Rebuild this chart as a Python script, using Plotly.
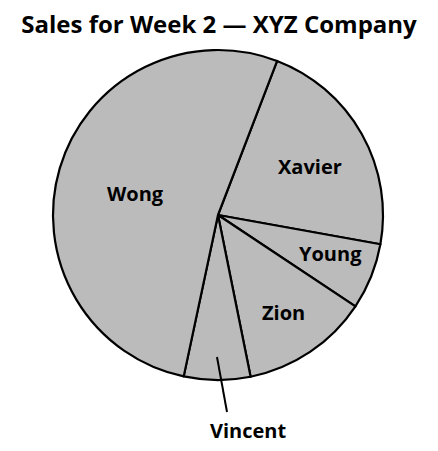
import plotly.graph_objects as go

# sales for week 2, slices listed clockwise starting at the Wong/Xavier border
names = ["Xavier", "Young", "Zion", "Vincent", "Wong"]
sales = [22, 6.5, 12.5, 6.5, 52.5]

W, H = 438, 451
FONT = "Open Sans"
OFF = 8  # page body margin


def px(x, y):
    # screen pixel position -> paper coordinates
    return (x - OFF) / W, 1 - (y - OFF) / H


dx0, dy0 = px(53, 380)
dx1, dy1 = px(383, 50)

fig = go.Figure()
fig.add_trace(go.Pie(
    labels=names,
    values=sales,
    sort=False,
    direction="clockwise",
    rotation=21,
    textinfo="none",
    hoverinfo="label+value",
    marker=dict(colors=["#bbbbbb"] * len(names), line=dict(color="black", width=2.2)),
    domain=dict(x=[dx0, dx1], y=[dy0, dy1]),
    showlegend=False,
))

# label positions (pixels), one per slice
label_pos = {
    "Wong": (135, 194),
    "Xavier": (310, 166),
    "Young": (330, 253),
    "Zion": (283, 312),
    "Vincent": (248, 430),
}
for name in names:
    x, y = px(*label_pos[name])
    fig.add_annotation(x=x, y=y, xref="paper", yref="paper", text="<b>" + name + "</b>",
                       xanchor="center", yanchor="middle", showarrow=False,
                       font=dict(family=FONT, size=20, color="black"))

# leader line for Vincent
x0, y0 = px(217, 357)
x1, y1 = px(227, 412)
fig.add_shape(type="line", xref="paper", yref="paper", x0=x0, y0=y0, x1=x1, y1=y1,
              line=dict(color="black", width=2))

tx, ty = px(219, 25)
fig.update_layout(
    width=W, height=H,
    margin=dict(l=0, r=0, t=0, b=0),
    paper_bgcolor="white",
    plot_bgcolor="white",
    title=dict(text="<b>Sales for Week 2 \u2014 XYZ Company</b>", x=tx, xanchor="center",
               y=ty, yanchor="middle", yref="container",
               font=dict(family=FONT, size=24, color="black")),
)

fig.write_html("out.html")
